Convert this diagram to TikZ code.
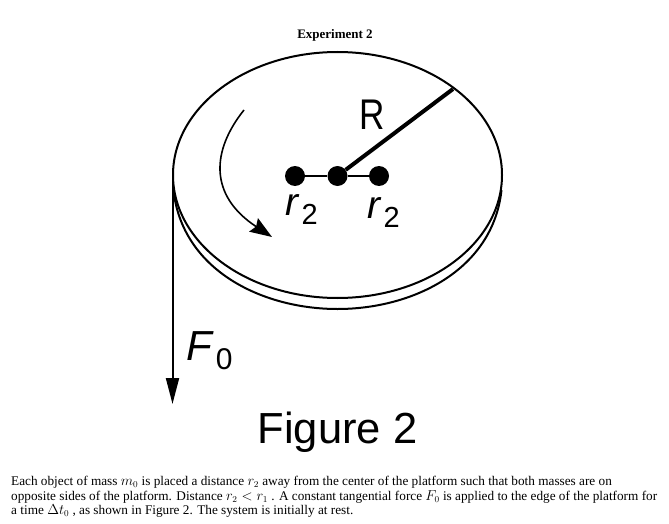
\documentclass[tikz,border=0pt]{standalone}
\usepackage{amsmath}
\usepackage{fontspec}
\setmainfont{Liberation Serif}
\setsansfont{Liberation Sans}
\usetikzlibrary{arrows.meta}
\tikzset{
	mass/.style={circle,fill=black,inner sep=0pt,minimum size=20pt},
	hand/.style={inner sep=0pt,font=\sffamily\fontsize{39}{39}\selectfont}
}
\newcommand{\symb}[3][29]{\textit{#2}\hspace{2pt}\raisebox{-9pt}{\fontsize{#1}{#1}\selectfont #3}}
\begin{document}
\begin{tikzpicture}[x=1pt,y=-1pt]
	\useasboundingbox (0,0) rectangle (669,524);
	% platform
	\draw[line width=2pt] (337.5,175) ellipse (164.5 and 123);
	\draw[line width=2pt] (173.5,190) .. controls (182,270) and (262,309) .. (337.5,309) .. controls (413,309) and (493,270) .. (501.5,190);
	% masses and radii
	\node[mass] (mid) at (337.5,176) {};
	\node[mass] (left) at (295,176) {};
	\node[mass] (right) at (379,176) {};
	\coordinate (rim) at (453,89);
	\draw[line width=1.6pt] (left) -- (mid);
	\draw[line width=2.2pt] (mid) -- (right);
	\draw[line width=4pt] (mid) -- (rim);
	\node[hand,xscale=.9,yscale=1.1] (labR) at (372,115) {R};
	\node[hand,anchor=west] (labrl) at (285,210) {\symb{r}{2}};
	\node[hand,anchor=west] (labrr) at (367,213) {\symb{r}{2}};
	% rotation
	\coordinate (turnA) at (244,110);
	\coordinate (turnB) at (272,237);
	\draw[line width=1.6pt,-{Stealth[length=22pt,width=16pt,inset=3pt]}] (turnA) .. controls (212,150) and (208,195) .. (turnB);
	% force
	\coordinate (forceA) at (172.5,170);
	\coordinate (forceB) at (172.5,404);
	\draw[line width=2pt,-{Stealth[length=26pt,width=13pt,inset=0pt]}] (forceA) -- (forceB);
	\node[hand,anchor=west,font=\sffamily\fontsize{42}{42}\selectfont] (labF) at (186,351) {\symb[30]{F}{0}};
	% text
	\node[inner sep=0pt,font=\bfseries\fontsize{13}{13}\selectfont] (title) at (335,35.5) {Experiment 2};
	\node[inner sep=0pt,font=\sffamily\fontsize{43.5}{43.5}\selectfont] (figlab) at (337.5,432) {Figure 2};
	\node[inner sep=0pt,anchor=north west,align=left,font=\fontsize{13.25}{14.5}\selectfont] (caption) at (11,476) {Each object of mass $m_0$ is placed a distance $r_2$ away from the center of the platform such that both masses are on\\
	opposite sides of the platform. Distance $r_2 < r_1$ . A constant tangential force $F_0$ is applied to the edge of the platform for\\
	a time $\Delta t_0$ , as shown in Figure 2. The system is initially at rest.};
\end{tikzpicture}
\end{document}
